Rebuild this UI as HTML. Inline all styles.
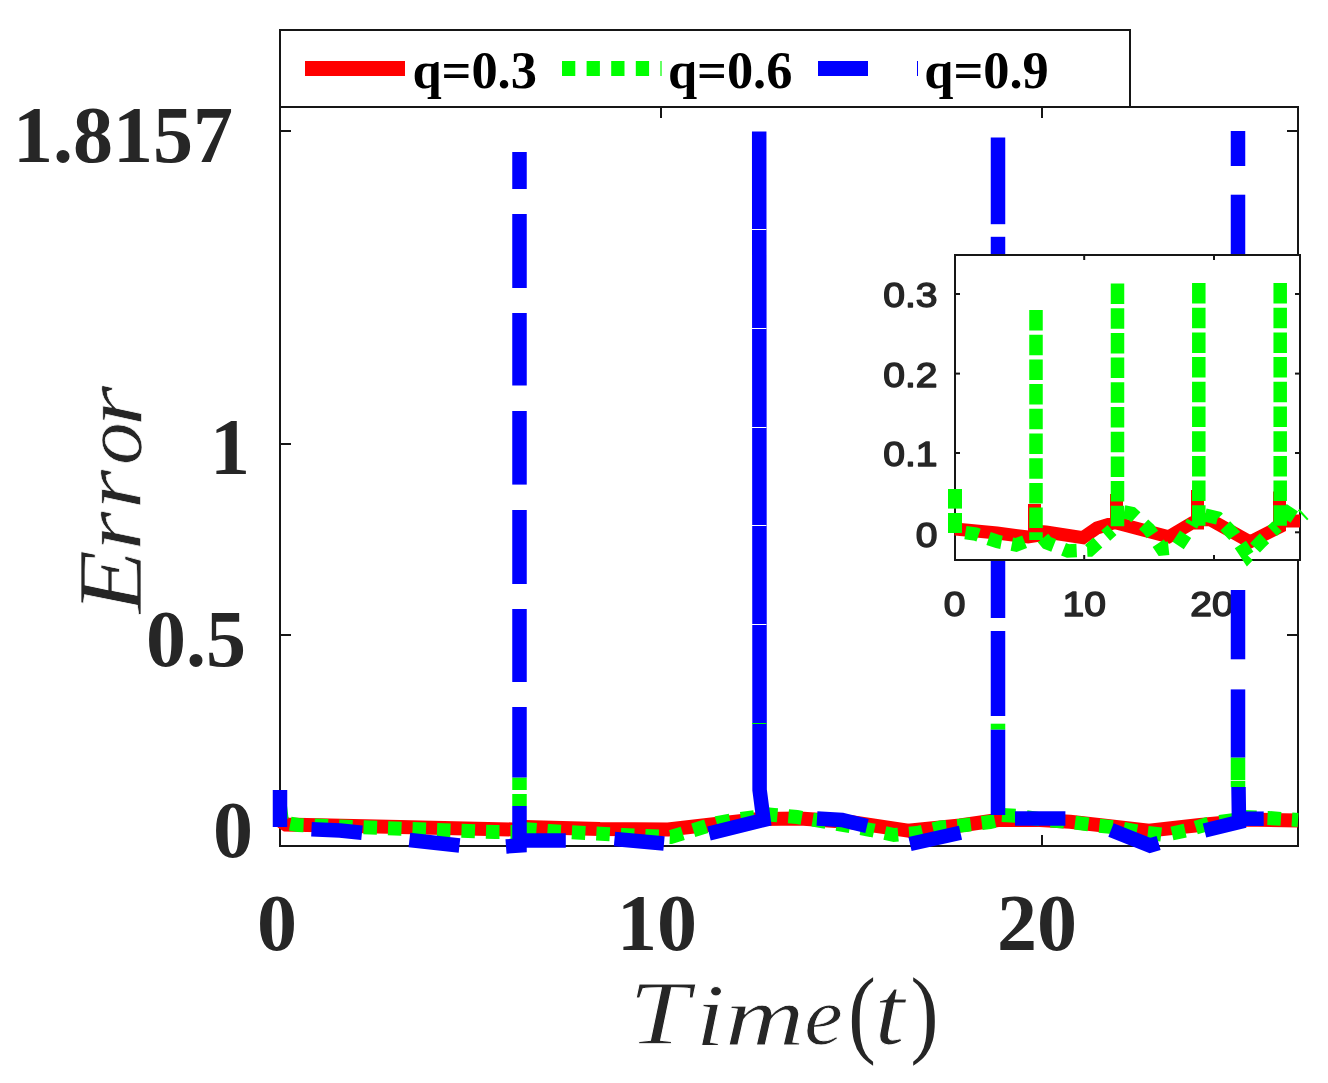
<!DOCTYPE html>
<html><head><meta charset="utf-8"><title>Error vs Time</title>
<style>html,body{margin:0;padding:0;background:#fff;width:1328px;height:1083px;overflow:hidden}svg{display:block}</style>
</head><body>
<svg width="1328" height="1083" viewBox="0 0 1328 1083">
<rect x="0" y="0" width="1328" height="1083" fill="#ffffff"/>
<rect x="280" y="107" width="1018" height="739" fill="none" stroke="#161616" stroke-width="2"/>
<line x1="281" y1="131" x2="291" y2="131" stroke="#161616" stroke-width="2"/>
<line x1="1287" y1="131" x2="1297" y2="131" stroke="#161616" stroke-width="2"/>
<line x1="281" y1="444" x2="291" y2="444" stroke="#161616" stroke-width="2"/>
<line x1="1287" y1="444" x2="1297" y2="444" stroke="#161616" stroke-width="2"/>
<line x1="281" y1="635" x2="291" y2="635" stroke="#161616" stroke-width="2"/>
<line x1="1287" y1="635" x2="1297" y2="635" stroke="#161616" stroke-width="2"/>
<line x1="281" y1="826" x2="291" y2="826" stroke="#161616" stroke-width="2"/>
<line x1="1287" y1="826" x2="1297" y2="826" stroke="#161616" stroke-width="2"/>
<line x1="661" y1="845" x2="661" y2="835" stroke="#161616" stroke-width="2"/>
<line x1="661" y1="108" x2="661" y2="118" stroke="#161616" stroke-width="2"/>
<line x1="1042" y1="845" x2="1042" y2="835" stroke="#161616" stroke-width="2"/>
<line x1="1042" y1="108" x2="1042" y2="118" stroke="#161616" stroke-width="2"/>
<text x="233" y="161.7" font-family="Liberation Serif, Times New Roman, serif" font-weight="bold" font-size="80" fill="#262626" text-anchor="end">1.8157</text>
<text x="250" y="474.2" font-family="Liberation Serif, Times New Roman, serif" font-weight="bold" font-size="80" fill="#262626" text-anchor="end">1</text>
<text x="246" y="665.5" font-family="Liberation Serif, Times New Roman, serif" font-weight="bold" font-size="80" fill="#262626" text-anchor="end">0.5</text>
<text x="253" y="857" font-family="Liberation Serif, Times New Roman, serif" font-weight="bold" font-size="80" fill="#262626" text-anchor="end">0</text>
<text x="277" y="950.3" font-family="Liberation Serif, Times New Roman, serif" font-weight="bold" font-size="80" fill="#262626" text-anchor="middle">0</text>
<text x="657" y="950.3" font-family="Liberation Serif, Times New Roman, serif" font-weight="bold" font-size="80" fill="#262626" text-anchor="middle">10</text>
<text x="1037" y="950.3" font-family="Liberation Serif, Times New Roman, serif" font-weight="bold" font-size="80" fill="#262626" text-anchor="middle">20</text>
<g transform="translate(141,615) rotate(-90)">
<text transform="matrix(1.0421 0 0 0.9133 1.42 -0.30)" font-family="Liberation Serif, Times New Roman, serif" font-style="italic" font-size="100" fill="#262626" stroke="#ffffff" stroke-width="0.7">E</text>
<text transform="matrix(1.0069 0 0 0.8362 64.52 0.40)" font-family="Liberation Serif, Times New Roman, serif" font-style="italic" font-size="100" fill="#262626" stroke="#ffffff" stroke-width="0.7">r</text>
<text transform="matrix(1.0183 0 0 0.8362 105.87 0.40)" font-family="Liberation Serif, Times New Roman, serif" font-style="italic" font-size="100" fill="#262626" stroke="#ffffff" stroke-width="0.7">r</text>
<text transform="matrix(0.8537 0 0 0.8338 149.96 0.19)" font-family="Liberation Serif, Times New Roman, serif" font-style="italic" font-size="100" fill="#262626" stroke="#ffffff" stroke-width="0.7">o</text>
<text transform="matrix(1.0411 0 0 0.8510 188.68 1.00)" font-family="Liberation Serif, Times New Roman, serif" font-style="italic" font-size="100" fill="#262626" stroke="#ffffff" stroke-width="0.7">r</text>
</g>
<text transform="matrix(1.0877 0 0 0.9194 628.98 1044.00)" font-family="Liberation Serif, Times New Roman, serif" font-style="italic" font-size="100" fill="#262626" stroke="#ffffff" stroke-width="1.0">T</text>
<text transform="matrix(1.0422 0 0 0.8956 695.70 1044.90)" font-family="Liberation Serif, Times New Roman, serif" font-style="italic" font-size="100" fill="#262626" stroke="#ffffff" stroke-width="1.0">i</text>
<text transform="matrix(1.1024 0 0 0.8510 725.02 1044.90)" font-family="Liberation Serif, Times New Roman, serif" font-style="italic" font-size="100" fill="#262626" stroke="#ffffff" stroke-width="1.0">m</text>
<text transform="matrix(0.8678 0 0 0.8254 804.23 1043.89)" font-family="Liberation Serif, Times New Roman, serif" font-style="italic" font-size="100" fill="#262626" stroke="#ffffff" stroke-width="1.0">e</text>
<text transform="matrix(0.8254 0 0 0.9716 848.27 1045.32)" font-family="Liberation Serif, Times New Roman, serif" font-size="100" fill="#262626">(</text>
<text transform="matrix(1.0791 0 0 0.9725 874.56 1043.75)" font-family="Liberation Serif, Times New Roman, serif" font-style="italic" font-size="100" fill="#262626" stroke="#ffffff" stroke-width="1.0">t</text>
<text transform="matrix(0.8410 0 0 0.9716 910.39 1045.32)" font-family="Liberation Serif, Times New Roman, serif" font-size="100" fill="#262626">)</text>
<text transform="translate(937.5,307.2) scale(1.1,1)" font-family="Liberation Sans, Arial, sans-serif" font-size="35.5" stroke="#262626" stroke-width="1.5" stroke-linejoin="round" fill="#262626" text-anchor="end">0.3</text>
<text transform="translate(937.5,387.2) scale(1.1,1)" font-family="Liberation Sans, Arial, sans-serif" font-size="35.5" stroke="#262626" stroke-width="1.5" stroke-linejoin="round" fill="#262626" text-anchor="end">0.2</text>
<text transform="translate(937.5,466.4) scale(1.1,1)" font-family="Liberation Sans, Arial, sans-serif" font-size="35.5" stroke="#262626" stroke-width="1.5" stroke-linejoin="round" fill="#262626" text-anchor="end">0.1</text>
<text transform="translate(937.5,546.8) scale(1.1,1)" font-family="Liberation Sans, Arial, sans-serif" font-size="35.5" stroke="#262626" stroke-width="1.5" stroke-linejoin="round" fill="#262626" text-anchor="end">0</text>
<text transform="translate(954.6,616.2) scale(1.1,1)" font-family="Liberation Sans, Arial, sans-serif" font-size="35.5" stroke="#262626" stroke-width="1.5" stroke-linejoin="round" fill="#262626" text-anchor="middle">0</text>
<text transform="translate(1084.2,616.2) scale(1.1,1)" font-family="Liberation Sans, Arial, sans-serif" font-size="35.5" stroke="#262626" stroke-width="1.5" stroke-linejoin="round" fill="#262626" text-anchor="middle">10</text>
<text transform="translate(1212,616.2) scale(1.1,1)" font-family="Liberation Sans, Arial, sans-serif" font-size="35.5" stroke="#262626" stroke-width="1.5" stroke-linejoin="round" fill="#262626" text-anchor="middle">20</text>
<polyline points="280,816 284,824.5 400,827 514,829.5 519.5,829 525,827 600,829 668,829.5 720,823.5 759.5,819 800,818.5 850,822 908,830.7 960,825.5 998,820 1040,820 1070,821.7 1149,830.6 1200,825 1232,822 1238,821 1244,819.5 1298,820.5" fill="none" stroke="#ff0000" stroke-width="14" stroke-linejoin="bevel"/>
<polyline points="280,806 282,822 298,825 495,832 516,832" fill="none" stroke="#00ff00" stroke-width="14" stroke-dasharray="13.5 11"/>
<polyline points="523,829 549,831 622,835 671,837 717,823 740,819 756,817" fill="none" stroke="#00ff00" stroke-width="14" stroke-dasharray="13.5 11"/>
<polyline points="764,814 774,815 797,817 844,825 871,830 894,835 917,833 941,827.5 966,825 990,822 995,821" fill="none" stroke="#00ff00" stroke-width="14" stroke-dasharray="13.5 11"/>
<polyline points="1002,815 1018,816 1045,820 1070,822 1093,825 1116,827.5 1140,832 1165,835 1188,830 1211,823 1234,820" fill="none" stroke="#00ff00" stroke-width="14" stroke-dasharray="13.5 11"/>
<polyline points="1243,817 1268,818 1298,820" fill="none" stroke="#00ff00" stroke-width="14" stroke-dasharray="13.5 11"/>
<rect x="512.25" y="777.5" width="14.5" height="12.5" fill="#00ff00"/>
<rect x="512.25" y="794" width="14.5" height="12" fill="#00ff00"/>
<rect x="990.75" y="723.7" width="14.5" height="6" fill="#00ff00"/>
<rect x="1230.75" y="757.5" width="14.5" height="22.7" fill="#00ff00"/>
<rect x="1230.75" y="781" width="14.5" height="6" fill="#00ff00"/>
<rect x="272.75" y="790" width="14.5" height="37" fill="#0000ff"/>
<polyline points="311.5,829.2 340,830.5 362,832.8" fill="none" stroke="#0000ff" stroke-width="14.5" stroke-linejoin="miter"/>
<polyline points="409.4,840 459.5,845.5" fill="none" stroke="#0000ff" stroke-width="14.5" stroke-linejoin="miter"/>
<polyline points="506,846.5 519.5,845.5 519.5,806" fill="none" stroke="#0000ff" stroke-width="14.5" stroke-linejoin="miter"/>
<rect x="512.25" y="152" width="14.5" height="37" fill="#0000ff"/>
<rect x="512.25" y="214" width="14.5" height="74" fill="#0000ff"/>
<rect x="512.25" y="313" width="14.5" height="72.5" fill="#0000ff"/>
<rect x="512.25" y="411" width="14.5" height="73.6" fill="#0000ff"/>
<rect x="512.25" y="510" width="14.5" height="74" fill="#0000ff"/>
<rect x="512.25" y="609" width="14.5" height="73" fill="#0000ff"/>
<rect x="512.25" y="707" width="14.5" height="70.5" fill="#0000ff"/>
<polyline points="519.5,840.5 565.8,840.5" fill="none" stroke="#0000ff" stroke-width="14.5" stroke-linejoin="miter"/>
<polyline points="614.5,839 664,843.5" fill="none" stroke="#0000ff" stroke-width="14.5" stroke-linejoin="miter"/>
<polyline points="709,833.5 763.5,820 759.6,790 759.2,131.6" fill="none" stroke="#0000ff" stroke-width="14.5" stroke-linejoin="miter"/>
<rect x="751.95" y="229" width="14.5" height="1" fill="#ffffff"/>
<rect x="751.95" y="328" width="14.5" height="1" fill="#ffffff"/>
<rect x="751.95" y="427" width="14.5" height="1" fill="#ffffff"/>
<rect x="751.95" y="525" width="14.5" height="1" fill="#ffffff"/>
<rect x="751.95" y="624" width="14.5" height="1" fill="#ffffff"/>
<rect x="751.95" y="723" width="14.5" height="1" fill="#00ff00"/>
<polyline points="817,818.5 842,820 867,826" fill="none" stroke="#0000ff" stroke-width="14.5" stroke-linejoin="miter"/>
<polyline points="910,844 960.5,832.7" fill="none" stroke="#0000ff" stroke-width="14.5" stroke-linejoin="miter"/>
<rect x="990.75" y="137.5" width="14.5" height="86.7" fill="#0000ff"/>
<rect x="990.75" y="236.8" width="14.5" height="19.2" fill="#0000ff"/>
<rect x="990.75" y="559" width="14.5" height="59" fill="#0000ff"/>
<rect x="990.75" y="631" width="14.5" height="85" fill="#0000ff"/>
<rect x="990.75" y="729.7" width="14.5" height="85.3" fill="#0000ff"/>
<polyline points="1015,818.4 1065.4,818.4" fill="none" stroke="#0000ff" stroke-width="14.5" stroke-linejoin="miter"/>
<polyline points="1111,830 1150,845.5 1158.6,843" fill="none" stroke="#0000ff" stroke-width="14.5" stroke-linejoin="miter"/>
<rect x="1230.75" y="131" width="14.5" height="35" fill="#0000ff"/>
<rect x="1230.75" y="194.7" width="14.5" height="61.3" fill="#0000ff"/>
<rect x="1230.75" y="590" width="14.5" height="69.3" fill="#0000ff"/>
<rect x="1230.75" y="689.4" width="14.5" height="68.1" fill="#0000ff"/>
<polyline points="1204.5,830.5 1239,822 1238.5,787" fill="none" stroke="#0000ff" stroke-width="14.5" stroke-linejoin="miter"/>
<polyline points="1243,818.7 1263.7,818.7" fill="none" stroke="#0000ff" stroke-width="14.5" stroke-linejoin="miter"/>
<rect x="955" y="255" width="345" height="305" fill="#ffffff"/>
<rect x="955" y="255" width="345" height="305" fill="none" stroke="#161616" stroke-width="2"/>
<line x1="956" y1="294" x2="960" y2="294" stroke="#161616" stroke-width="2"/>
<line x1="1295" y1="294" x2="1299" y2="294" stroke="#161616" stroke-width="2"/>
<line x1="956" y1="373.6" x2="960" y2="373.6" stroke="#161616" stroke-width="2"/>
<line x1="1295" y1="373.6" x2="1299" y2="373.6" stroke="#161616" stroke-width="2"/>
<line x1="956" y1="453" x2="960" y2="453" stroke="#161616" stroke-width="2"/>
<line x1="1295" y1="453" x2="1299" y2="453" stroke="#161616" stroke-width="2"/>
<line x1="956" y1="532.3" x2="960" y2="532.3" stroke="#161616" stroke-width="2"/>
<line x1="1295" y1="532.3" x2="1299" y2="532.3" stroke="#161616" stroke-width="2"/>
<line x1="1084.2" y1="559" x2="1084.2" y2="555" stroke="#161616" stroke-width="2"/>
<line x1="1084.2" y1="256" x2="1084.2" y2="260" stroke="#161616" stroke-width="2"/>
<line x1="1214" y1="559" x2="1214" y2="555" stroke="#161616" stroke-width="2"/>
<line x1="1214" y1="256" x2="1214" y2="260" stroke="#161616" stroke-width="2"/>
<polyline points="955,529 963,529.7 997,533 1028,537 1034.5,536 1034.5,504 1034.5,531 1046,532 1083,537.6 1097,528 1116.5,522 1116.5,494 1116.5,523 1168.7,536.8 1192,523 1197.5,523 1197.5,490 1197.5,520 1210,519.5 1250,542 1279.5,527 1279.5,491.6 1279.5,521 1300,521" fill="none" stroke="#ff0000" stroke-width="13" stroke-linejoin="miter"/>
<polyline points="955,531 975.8,534.2 997.4,541.5 1016,545 1029,540" fill="none" stroke="#00ff00" stroke-width="13.5" stroke-dasharray="13.5 10.5" stroke-dashoffset="13.5"/>
<polyline points="1043,538 1047,542.8 1068,551 1089.5,550 1112,530" fill="none" stroke="#00ff00" stroke-width="13.5" stroke-dasharray="13.5 10.5"/>
<polyline points="1124,512 1131.8,513.5 1149,529.3 1162,548.9 1177,547.3 1189.8,527.8 1193,522" fill="none" stroke="#00ff00" stroke-width="13.5" stroke-dasharray="13.5 10.5"/>
<polyline points="1205,515 1217.7,518 1234.2,535.3 1247.8,555.6 1260.6,542 1277.2,526.3" fill="none" stroke="#00ff00" stroke-width="13.5" stroke-dasharray="13.5 10.5"/>
<polyline points="1283,509.7 1298,519.5 1304,514" fill="none" stroke="#00ff00" stroke-width="13.5" stroke-dasharray="13.5 10.5"/>
<rect x="948" y="489" width="14" height="19.6" fill="#00ff00"/>
<rect x="948" y="513" width="14" height="20" fill="#00ff00"/>
<line x1="1036" y1="310" x2="1036" y2="540" stroke="#00ff00" stroke-width="13.5" stroke-dasharray="20.5 4.2"/>
<line x1="1117.5" y1="283.5" x2="1117.5" y2="530" stroke="#00ff00" stroke-width="13.5" stroke-dasharray="20.5 4.2"/>
<line x1="1198.8" y1="283" x2="1198.8" y2="527" stroke="#00ff00" stroke-width="13.5" stroke-dasharray="20.5 4.2"/>
<line x1="1280.2" y1="283" x2="1280.2" y2="526" stroke="#00ff00" stroke-width="13.5" stroke-dasharray="20.5 4.2"/>
<rect x="280" y="30" width="850" height="77" fill="#ffffff" stroke="#161616" stroke-width="2"/>
<line x1="305" y1="68.5" x2="405" y2="68.5" stroke="#ff0000" stroke-width="15"/>
<line x1="562" y1="68.5" x2="661.6" y2="68.5" stroke="#00ff00" stroke-width="15" stroke-dasharray="13.3 11.3"/>
<line x1="818" y1="68.5" x2="918" y2="68.5" stroke="#0000ff" stroke-width="15" stroke-dasharray="50 49 1 100"/>
<text x="412.4" y="87.8" font-family="Liberation Serif, Times New Roman, serif" font-weight="bold" font-size="52.4" fill="#000000">q=0.3</text>
<text x="667.9" y="87.8" font-family="Liberation Serif, Times New Roman, serif" font-weight="bold" font-size="52.4" fill="#000000">q=0.6</text>
<text x="924.3" y="87.8" font-family="Liberation Serif, Times New Roman, serif" font-weight="bold" font-size="52.4" fill="#000000">q=0.9</text>
</svg>
</body></html>
